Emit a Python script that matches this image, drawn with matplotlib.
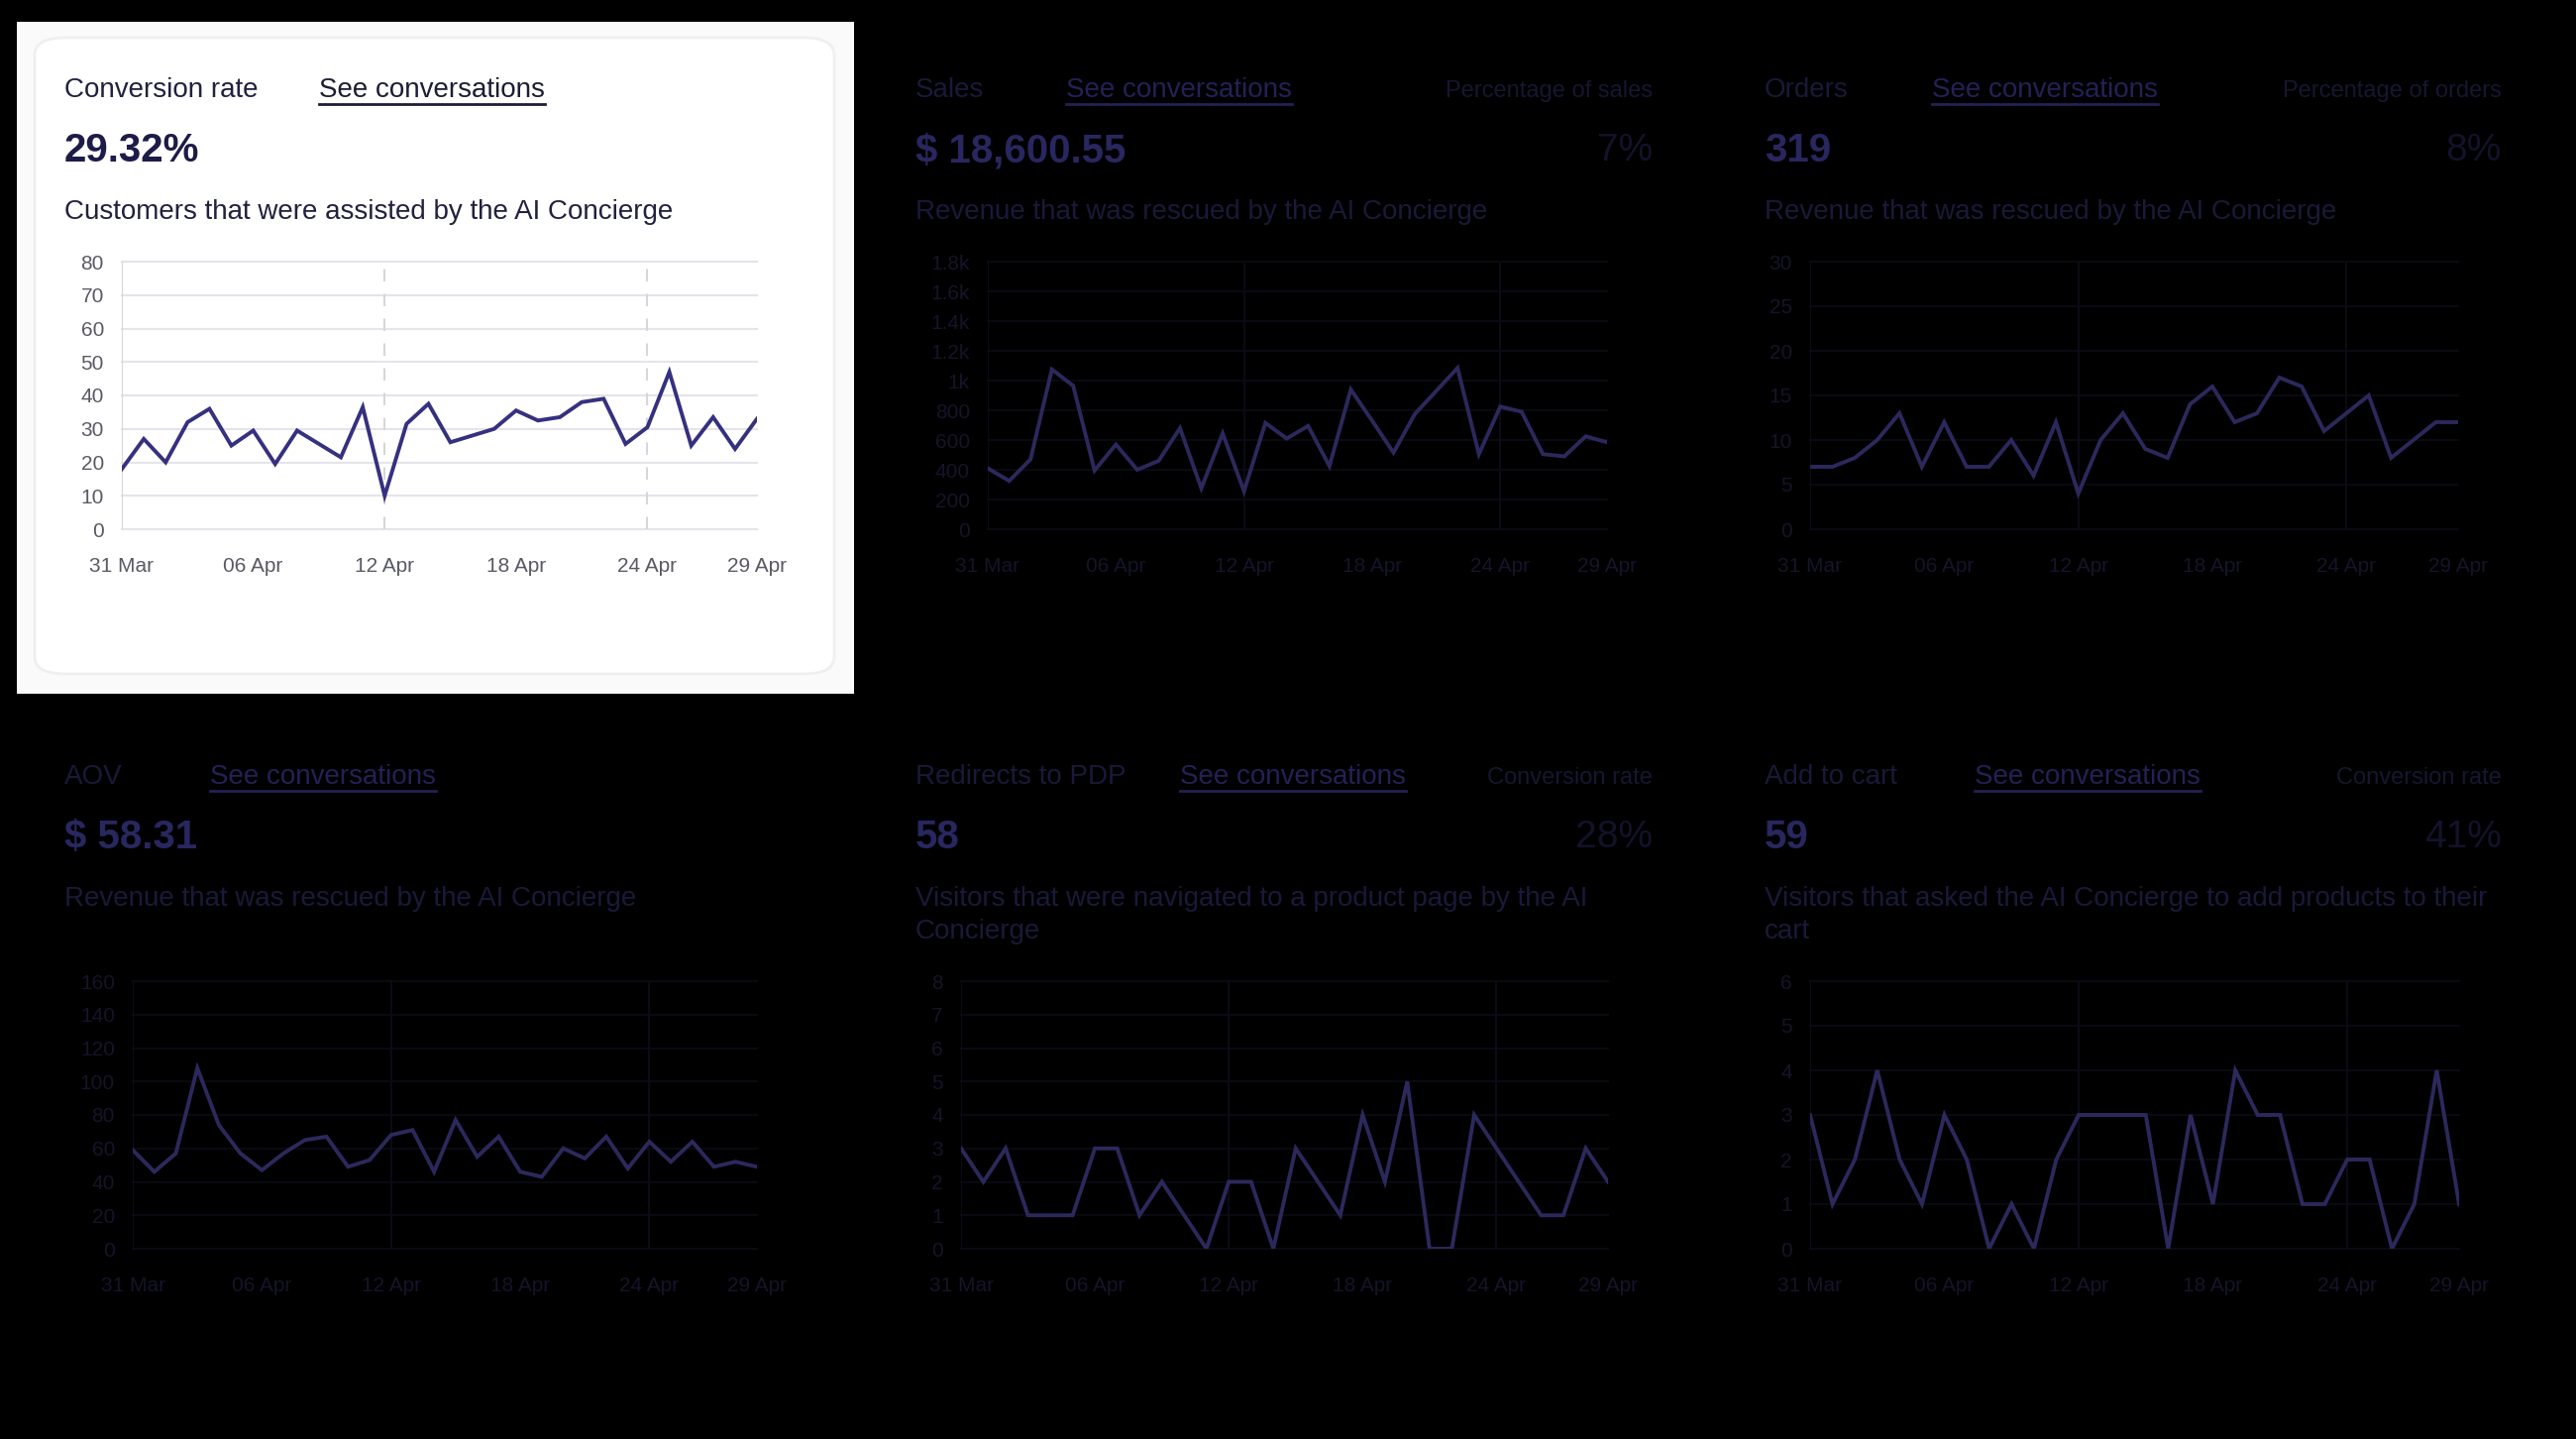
import matplotlib
matplotlib.use("Agg")
import matplotlib.pyplot as plt
from matplotlib.lines import Line2D
from matplotlib.patches import FancyBboxPatch, Rectangle

W, H = 2600, 1452

days = list(range(30))
tick_pos = [0, 6, 12, 18, 24, 29]
tick_lab = ["31 Mar", "06 Apr", "12 Apr", "18 Apr", "24 Apr", "29 Apr"]

conversion = [18, 27, 20, 32, 36, 25, 29.5, 19.5, 29.5, 25.5, 21.5, 36.5, 10, 31.5, 37.5,
              26, 28, 30, 35.5, 32.5, 33.5, 38, 39, 25.5, 30.5, 47, 25, 33.5, 24, 33]
sales = [410, 325, 470, 1075, 965, 395, 570, 400, 460, 680, 275, 645, 255, 715, 610,
         695, 425, 940, 730, 515, 775, 930, 1085, 505, 825, 790, 505, 490, 625, 585]
orders = [7, 7, 8, 10, 13, 7, 12, 7, 7, 10, 6, 12, 4, 10, 13,
          9, 8, 14, 16, 12, 13, 17, 16, 11, 13, 15, 8, 10, 12, 12]
aov = [59, 46, 57, 108, 74, 57, 47, 57, 65, 67, 49, 53, 68, 71, 46,
       77, 55, 67, 46, 43, 60, 54, 67, 48, 64, 52, 64, 49, 52, 49]
redirects = [3, 2, 3, 1, 1, 1, 3, 3, 1, 2, 1, 0, 2, 2, 0,
             3, 2, 1, 4, 2, 5, 0, 0, 4, 3, 2, 1, 1, 3, 2]
add_cart = [3, 1, 2, 4, 2, 1, 3, 2, 0, 1, 0, 2, 3, 3, 3,
            3, 0, 3, 1, 4, 3, 3, 1, 1, 2, 2, 0, 1, 4, 1]

cards = [
    dict(title="Conversion rate", value="29.32%", sub=["Customers that were assisted by the AI Concierge"],
         right=None, pct=None, data=conversion, yt=[0, 10, 20, 30, 40, 50, 60, 70, 80],
         ylab=None, light=True, tx=65, lx=322, row=0, ax=(123, 764)),
    dict(title="Sales", value="$ 18,600.55", sub=["Revenue that was rescued by the AI Concierge"],
         right="Percentage of sales", pct="7%", data=sales,
         yt=[0, 200, 400, 600, 800, 1000, 1200, 1400, 1600, 1800],
         ylab=["0", "200", "400", "600", "800", "1k", "1.2k", "1.4k", "1.6k", "1.8k"],
         light=False, tx=924, lx=1076, row=0, ax=(997, 1622)),
    dict(title="Orders", value="319", sub=["Revenue that was rescued by the AI Concierge"],
         right="Percentage of orders", pct="8%", data=orders, yt=[0, 5, 10, 15, 20, 25, 30],
         ylab=None, light=False, tx=1781, lx=1950, row=0, ax=(1827, 2481)),
    dict(title="AOV", value="$ 58.31", sub=["Revenue that was rescued by the AI Concierge"],
         right=None, pct=None, data=aov, yt=[0, 20, 40, 60, 80, 100, 120, 140, 160],
         ylab=None, light=False, tx=65, lx=212, row=1, ax=(134, 764)),
    dict(title="Redirects to PDP", value="58",
         sub=["Visitors that were navigated to a product page by the AI", "Concierge"],
         right="Conversion rate", pct="28%", data=redirects, yt=[0, 1, 2, 3, 4, 5, 6, 7, 8],
         ylab=None, light=False, tx=924, lx=1191, row=1, ax=(970, 1623)),
    dict(title="Add to cart", value="59",
         sub=["Visitors that asked the AI Concierge to add products to their", "cart"],
         right="Conversion rate", pct="41%", data=add_cart, yt=[0, 1, 2, 3, 4, 5, 6],
         ylab=None, light=False, tx=1781, lx=1993, row=1, ax=(1827, 2482)),
]

right_edge = {924: 1668, 1781: 2525, 65: 840}
rows = [dict(title=91, value=152, sub=214, top=264, bottom=534),
        dict(title=784, value=845, sub=907, top=990, bottom=1260)]

plt.rcParams['font.family'] = ['Liberation Sans', 'DejaVu Sans']

fig = plt.figure(figsize=(26, 14.52), dpi=100)
fig.patch.set_facecolor("black")


def fx(x):
    return x / W


def fy(y):
    return 1 - y / H


# white card behind the first chart
fig.add_artist(Rectangle((fx(17), fy(700)), (862 - 17) / W, (700 - 22) / H,
                         transform=fig.transFigure, facecolor="#fafafb", edgecolor="none", zorder=0))
fig.add_artist(FancyBboxPatch((fx(35), fy(680)), (842 - 35) / W, (680 - 38) / H,
                              boxstyle="round,pad=0,rounding_size=0.012",
                              transform=fig.transFigure, facecolor="white",
                              edgecolor="#efeff2", lw=2, zorder=0))

underlines = []
for c in cards:
    r = rows[c["row"]]
    if c["light"]:
        col = dict(title="#22213f", link="#1e1d35", value="#1d1c48", sub="#22213f",
                   tick="#5a5a66", grid="#e4e4ea", vgrid="#d6d6dc", line="#35317f",
                   right="#22213f", pct="#22213f")
    else:
        col = dict(title="#1a1938", link="#232155", value="#29275f", sub="#1a1939",
                   tick="#151429", grid="#09091200", vgrid="#0b0a16", line="#2b295c",
                   right="#171630", pct="#13122a")
        col["grid"] = "#090912"

    fig.text(fx(c["tx"]), fy(r["title"]), c["title"], color=col["title"], fontsize=20,
             ha="left", va="center")
    t = fig.text(fx(c["lx"]), fy(r["title"]), "See conversations", color=col["link"], fontsize=20,
                 ha="left", va="center")
    underlines.append((t, col["link"]))
    fig.text(fx(c["tx"]), fy(r["value"]), c["value"], color=col["value"], fontsize=29,
             fontweight="bold", ha="left", va="center")
    for k, s in enumerate(c["sub"]):
        fig.text(fx(c["tx"]), fy(r["sub"] + k * 33), s, color=col["sub"], fontsize=20,
                 ha="left", va="center")
    if c["right"]:
        re = right_edge[c["tx"]]
        fig.text(fx(re), fy(r["title"] + 1), c["right"], color=col["right"], fontsize=17,
                 ha="right", va="center")
        fig.text(fx(re), fy(r["value"]), c["pct"], color=col["pct"], fontsize=28,
                 ha="right", va="center")

    x0, x1 = c["ax"]
    ax = fig.add_axes([fx(x0), fy(r["bottom"]), (x1 - x0) / W, (r["bottom"] - r["top"]) / H])
    ax.set_facecolor("none")
    ax.plot(days, c["data"], color=col["line"], lw=2.8, solid_joinstyle="miter", zorder=3)
    ax.set_xlim(0, 29)
    ax.set_ylim(c["yt"][0], c["yt"][-1])
    ax.set_yticks(c["yt"])
    if c["ylab"]:
        ax.set_yticklabels(c["ylab"])
    ax.set_xticks(tick_pos)
    ax.set_xticklabels(tick_lab)
    for y in c["yt"]:
        ax.axhline(y, color=col["grid"], lw=1.5, zorder=1, clip_on=False)
    ax.axvline(0, color=col["vgrid"], lw=1.5, zorder=1)
    for d in (12, 24):
        ax.axvline(d, color=col["vgrid"], lw=1.5, ls=(0, (6, 6)) if c["light"] else "-", zorder=1)
    for s in ax.spines.values():
        s.set_visible(False)
    ax.tick_params(length=0, colors=col["tick"], labelsize=15, pad=13)
    ax.tick_params(axis="x", pad=20)

fig.canvas.draw()
rend = fig.canvas.get_renderer()
for t, color in underlines:
    bb = t.get_window_extent(renderer=rend)
    yy = (bb.y0 - 1) / fig.bbox.height
    fig.add_artist(Line2D([bb.x0 / fig.bbox.width, bb.x1 / fig.bbox.width], [yy, yy],
                          transform=fig.transFigure, color=color, lw=2))

fig.savefig("out.png", dpi=100, facecolor="black")
